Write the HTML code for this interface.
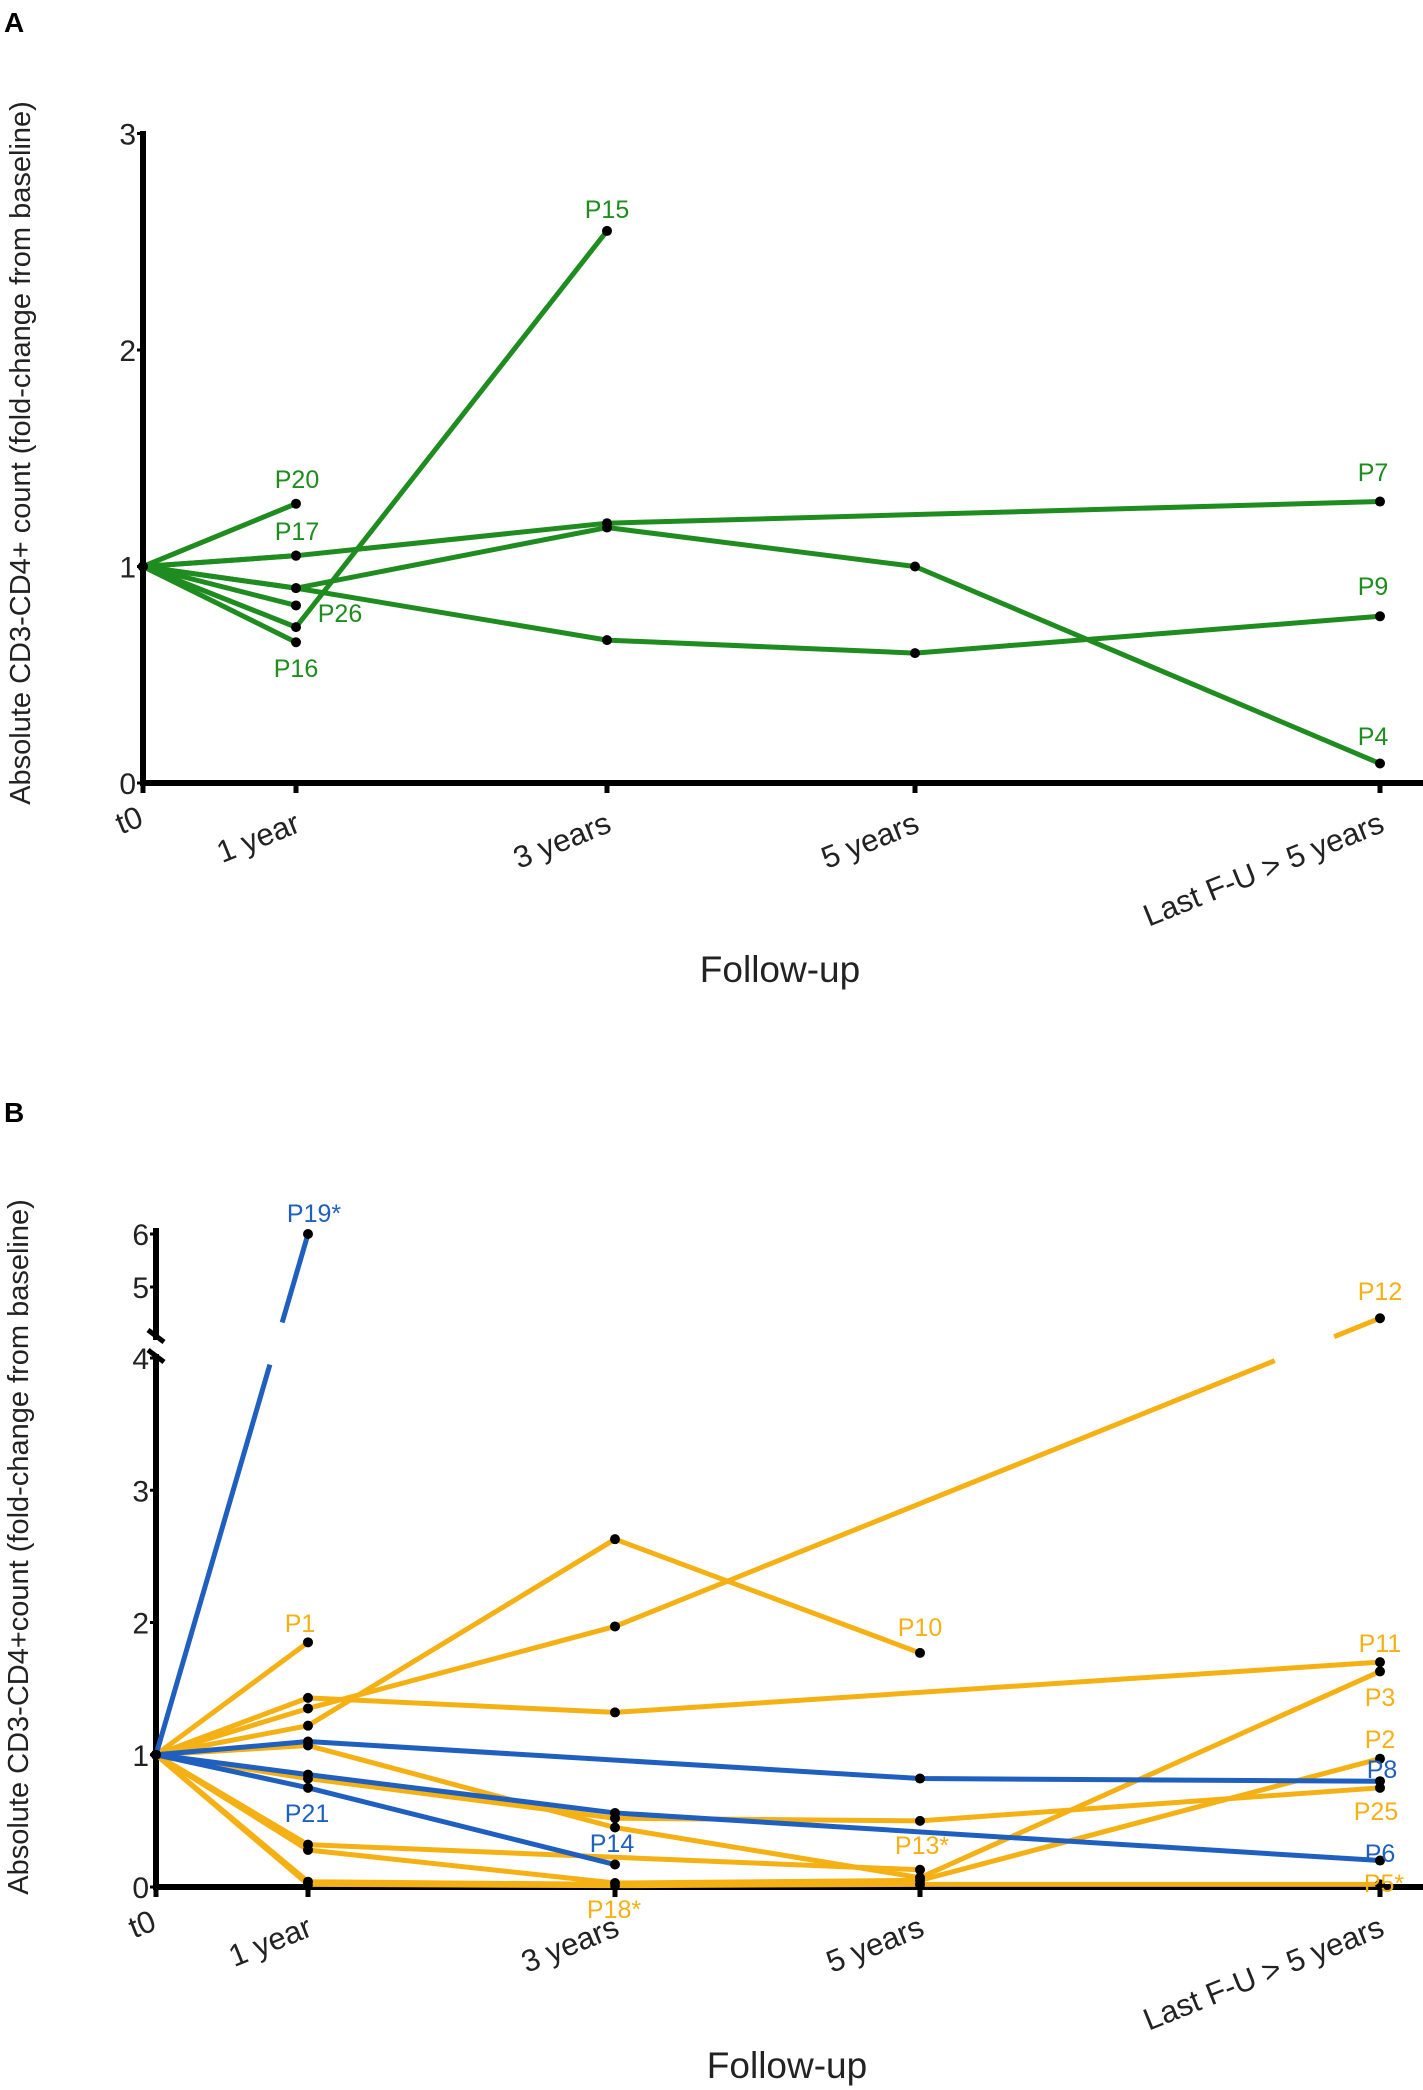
<!DOCTYPE html>
<html><head><meta charset="utf-8"><style>
body{margin:0;background:#fff}
svg{display:block;font-family:"Liberation Sans",sans-serif}
</style></head><body>
<svg id="s" width="1423" height="2090" viewBox="0 0 1423 2090"></svg>
<script>
const NS='http://www.w3.org/2000/svg';
const svg=document.getElementById('s');
const xCats=['t0','1 year','3 years','5 years','Last F-U > 5 years'];
const yTicksA=[0,1,2,3];
const yTicksB=[0,1,2,3,4,5,6];
// Panel A series (null = no measurement)
const aP15=[1,0.72,2.55,null,null];
const aP20=[1,1.29,null,null,null];
const aP17=[1,1.05,null,null,null];
const aP7=[1,1.05,1.2,null,1.3];
const aP4=[1,0.9,1.18,1.0,0.09];
const aP9=[1,0.9,0.66,0.6,0.77];
const aP26=[1,0.82,null,null,null];
const aP16=[1,0.65,null,null,null];
// Panel B blue
const bP19=[1,6,null,null,null];
const bP8=[1,1.1,null,0.82,0.8];
const bP6=[1,0.85,0.56,null,0.2];
const bP14=[1,0.75,0.17,null,null];
// Panel B orange
const bP1=[1,1.85,null,null,null];
const bP10=[1,1.22,2.63,1.77,null];
const bP12=[1,1.35,1.97,null,4.56];
const bP11=[1,1.43,1.32,null,1.7];
const bP3=[1,1.07,0.45,0.07,1.63];
const bP25=[1,0.82,0.52,0.5,0.75];
const bP13=[1,0.32,null,0.13,null];
const bP2=[1,0.28,0.03,0.05,0.97];
const bP18=[1,0.04,0.02,null,null];
const bP5=[1,0.02,0.01,0.02,0.02];

function mk(tag,attrs,name,parent){const e=document.createElementNS(NS,tag);for(const k in attrs)e.setAttribute(k,attrs[k]);


(parent||svg).appendChild(e);return e;}
function xA(i){return [143,296,607,915,1380][i];}
function xB(i){return [156,308,615,920,1380][i];}
function yA(v){return 783-v*216.5;}
function yB(v){
 if(v<=4)return 1887-v*(1887-1358)/4;
 if(v<=5)return 1358-(v-4)*71;return 1287-(v-5)*53;}
function series(data,xf,yf,color,name,gap){
 const pts=[];data.forEach((v,i)=>{if(v!==null)pts.push([xf(i),yf(v),v]);});
 mk('polyline',{points:pts.map(p=>p[0]+','+p[1]).join(' '),fill:'none',stroke:color,'stroke-width':5,'stroke-linejoin':'round'},name+'-line');
 if(gap){for(let j=1;j<pts.length;j++){const a=pts[j-1],b=pts[j];
  if(b[2]>gap[1]&&a[2]<gap[0]){const f0=(yf(gap[0])-a[1])/(b[1]-a[1]),f1=(yf(gap[1])-a[1])/(b[1]-a[1]);
   mk('line',{x1:a[0]+(b[0]-a[0])*f0,y1:yf(gap[0]),x2:a[0]+(b[0]-a[0])*f1,y2:yf(gap[1]),stroke:'#fff','stroke-width':9},name+'-gap');}}}
 pts.forEach(p=>mk('circle',{cx:p[0],cy:p[1],r:5,fill:'#000'},name+'-point'));
}
function txt(x,y,s,opt,name){const t=mk('text',Object.assign({x:x,y:y},opt),name);t.textContent=s;return t;}
function axes(xf,yf,yticks,y0,top,xEnd,pre){
 mk('line',{x1:xf(0),y1:top,x2:xf(0),y2:y0+3,stroke:'#000','stroke-width':6},pre+'y-axis');
 mk('line',{x1:xf(0)-3,y1:y0,x2:xEnd,y2:y0,stroke:'#000','stroke-width':6},pre+'x-axis');
 yticks.forEach(v=>{mk('line',{x1:xf(0)-6,y1:yf(v),x2:xf(0),y2:yf(v),stroke:'#000','stroke-width':3},pre+'y-tick');
  txt(xf(0)-7,yf(v)+11,String(v),{'font-size':30,'text-anchor':'end',fill:'#222'},pre+'y-tick-label');});
 xCats.forEach((c,i)=>{mk('line',{x1:xf(i),y1:y0,x2:xf(i),y2:y0+10,stroke:'#000','stroke-width':5},pre+'x-tick');
  const lx=xf(i)+(i==0?2:6),ly=y0+(i==0?42:48);
  txt(lx,ly,c,{'font-size':31,'text-anchor':'end',fill:'#222',transform:'rotate(-22 '+lx+' '+ly+')'},pre+'x-tick-label');});
}
// Panel A
txt(4,32,'A',{'font-size':28,'font-weight':'bold'},'panel-a-label');
axes(xA,yA,yTicksA,783,131,1423,'a-');
txt(780,982,'Follow-up',{'font-size':37,'text-anchor':'middle',fill:'#222'},'a-x-axis-title');
txt(0,0,'Absolute CD3-CD4+ count (fold-change from baseline)',{'font-size':29,'text-anchor':'middle',fill:'#222',transform:'translate(30 453) rotate(-90)'},'a-y-axis-title');
const G='#1e8c1e';
[[aP9,'p9'],[aP4,'p4'],[aP7,'p7'],[aP17,'p17'],[aP20,'p20'],[aP26,'p26'],[aP16,'p16'],[aP15,'p15']].forEach(s=>series(s[0],xA,yA,G,'a-'+s[1]));
const labA=[['P20',297,488],['P17',297,540],['P26',340,622],['P16',296,677],['P15',607,218],['P7',1373,481],['P9',1373,595],['P4',1373,745]];
labA.forEach(l=>txt(l[1],l[2],l[0],{'font-size':25,'text-anchor':'middle',fill:G},'a-label-'+l[0].toLowerCase()));
// Panel B
txt(4,1122,'B',{'font-size':28,'font-weight':'bold'},'panel-b-label');
axes(xB,yB,yTicksB,1887,1228,1423,'b-');
mk('rect',{x:148,y:1340,width:16,height:14,fill:'#fff'},'b-axis-break-gap');
mk('line',{x1:148,y1:1330,x2:164,y2:1342,stroke:'#000','stroke-width':5},'b-axis-break-mark');
mk('line',{x1:148,y1:1350,x2:164,y2:1362,stroke:'#000','stroke-width':5},'b-axis-break-mark');
txt(787,2078,'Follow-up',{'font-size':37,'text-anchor':'middle',fill:'#222'},'b-x-axis-title');
txt(0,0,'Absolute CD3-CD4+count (fold-change from baseline)',{'font-size':29,'text-anchor':'middle',fill:'#222',transform:'translate(28 1547) rotate(-90)'},'b-y-axis-title');
const O='#f5b014',B='#1f5fbf';
[[bP5,'p5'],[bP18,'p18'],[bP2,'p2'],[bP13,'p13'],[bP25,'p25'],[bP3,'p3'],[bP11,'p11'],[bP12,'p12'],[bP10,'p10'],[bP1,'p1']].forEach(s=>series(s[0],xB,yB,O,'b-'+s[1],s[1]=='p12'?[3.98,4.3]:null));
[[bP14,'p14'],[bP6,'p6'],[bP8,'p8'],[bP19,'p19']].forEach(s=>series(s[0],xB,yB,B,'b-'+s[1],s[1]=='p19'?[3.95,4.5]:null));
const labB=[['P19*',314,1222,B],['P1',300,1632,O],['P21',307,1822,B],['P14',612,1852,B],['P18*',614,1918,O],['P13*',922,1854,O],['P10',920,1636,O],['P12',1380,1300,O],['P11',1380,1652,O],['P3',1380,1706,O],['P2',1380,1748,O],['P8',1382,1778,B],['P25',1376,1820,O],['P6',1380,1862,B],['P5*',1384,1892,O]];
labB.forEach(l=>txt(l[1],l[2],l[0],{'font-size':25,'text-anchor':'middle',fill:l[3]},'b-label-'+l[0].replace('*','').toLowerCase()));
</script>
</body></html>
